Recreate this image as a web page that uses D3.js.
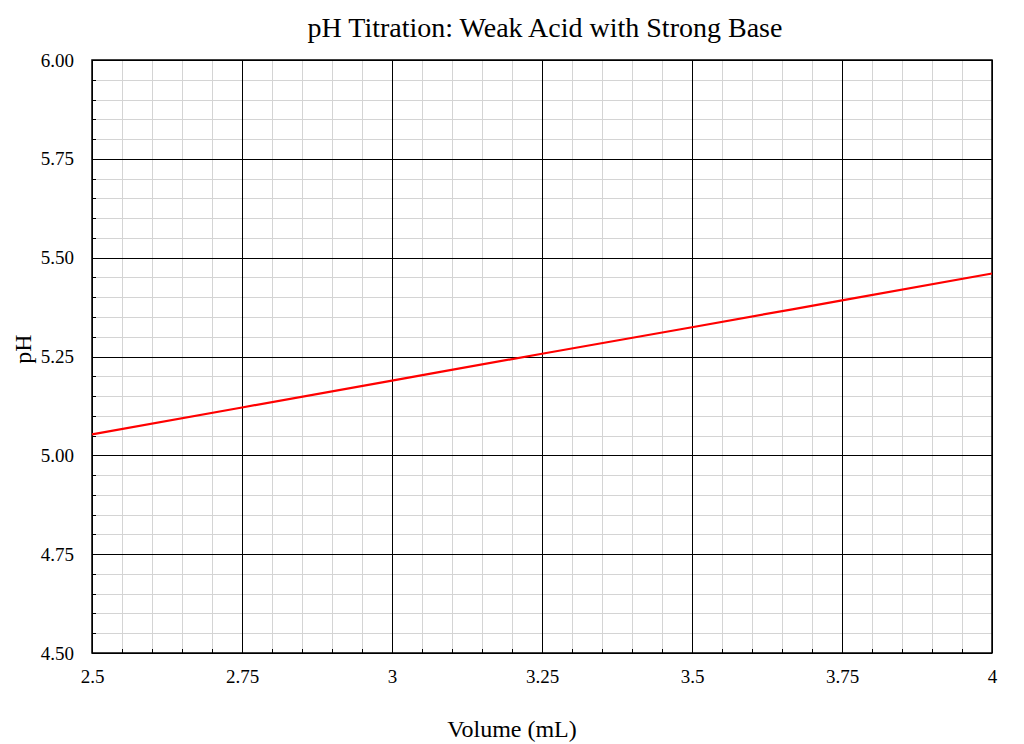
<!DOCTYPE html>
<html lang="en">
<head>
    <meta charset="UTF-8">
    <title>pH Titration</title>
    <script src="https://cdn.jsdelivr.net/npm/d3@7/dist/d3.min.js"></script>
    <style>
        body { margin: 0; background: #fff; }
        svg text { font-family: "Liberation Serif", "Times New Roman", serif; fill: #000; }
    </style>
</head>
<body>
    <script>
        // data
        var volume = [2.5, 2.75, 3.0, 3.25, 3.5, 3.75, 4.0];
        var ph = [5.053, 5.121, 5.189, 5.257, 5.324, 5.392, 5.460];
        var xTicks = [2.5, 2.75, 3, 3.25, 3.5, 3.75, 4];
        var yTicks = [4.5, 4.75, 5.0, 5.25, 5.5, 5.75, 6.0];

        var w = 1024, h = 744;
        var margin = { top: 60, right: 32, bottom: 91, left: 92 };

        var svg = d3.select("body").append("svg")
            .attr("width", w)
            .attr("height", h);

        var x = d3.scaleLinear().domain([2.5, 4]).range([margin.left, w - margin.right]);
        var y = d3.scaleLinear().domain([4.5, 6]).range([h - margin.bottom, margin.top]);

        var minorX = d3.range(0, 31).map(function (i) { return 2.5 + i * 0.05; });
        var minorY = d3.range(0, 31).map(function (i) { return 4.5 + i * 0.05; });

        // minor grid
        var g = svg.append("g");
        g.selectAll("line.mx").data(minorX).enter().append("line")
            .attr("x1", function (d) { return Math.round(x(d)) + 0.5; })
            .attr("x2", function (d) { return Math.round(x(d)) + 0.5; })
            .attr("y1", y(4.5)).attr("y2", y(6))
            .attr("stroke", "#d4d4d4").attr("stroke-width", 1);
        g.selectAll("line.my").data(minorY).enter().append("line")
            .attr("y1", function (d) { return Math.round(y(d)) + 0.5; })
            .attr("y2", function (d) { return Math.round(y(d)) + 0.5; })
            .attr("x1", x(2.5)).attr("x2", x(4))
            .attr("stroke", "#d4d4d4").attr("stroke-width", 1);

        // major grid
        g.selectAll("line.Mx").data(xTicks).enter().append("line")
            .attr("x1", function (d) { return Math.round(x(d)) + 0.5; })
            .attr("x2", function (d) { return Math.round(x(d)) + 0.5; })
            .attr("y1", y(4.5)).attr("y2", y(6))
            .attr("stroke", "#000").attr("stroke-width", 1);
        g.selectAll("line.My").data(yTicks).enter().append("line")
            .attr("y1", function (d) { return Math.round(y(d)) + 0.5; })
            .attr("y2", function (d) { return Math.round(y(d)) + 0.5; })
            .attr("x1", x(2.5)).attr("x2", x(4))
            .attr("stroke", "#000").attr("stroke-width", 1);

        // inward minor ticks on left and bottom
        g.selectAll("line.tx").data(minorX).enter().append("line")
            .attr("x1", function (d) { return Math.round(x(d)) + 0.5; })
            .attr("x2", function (d) { return Math.round(x(d)) + 0.5; })
            .attr("y1", y(4.5)).attr("y2", y(4.5) - 4)
            .attr("stroke", "#000");
        g.selectAll("line.ty").data(minorY).enter().append("line")
            .attr("y1", function (d) { return Math.round(y(d)) + 0.5; })
            .attr("y2", function (d) { return Math.round(y(d)) + 0.5; })
            .attr("x1", x(2.5)).attr("x2", x(2.5) + 4)
            .attr("stroke", "#000");

        // frame
        svg.append("rect")
            .attr("x", x(2.5)).attr("y", y(6))
            .attr("width", x(4) - x(2.5)).attr("height", y(4.5) - y(6))
            .attr("fill", "none").attr("stroke", "#000").attr("stroke-width", 1.5);

        // axis labels
        var xAxis = d3.axisBottom(x).tickValues(xTicks).tickSize(0).tickPadding(17)
            .tickFormat(d3.format(""));
        svg.append("g")
            .attr("transform", "translate(0," + y(4.5) + ")")
            .call(xAxis)
            .call(function (s) { s.select(".domain").remove(); })
            .selectAll("text")
            .style("font-family", "Liberation Serif")
            .style("font-size", "19px");

        var yAxis = d3.axisLeft(y).tickValues(yTicks).tickSize(0).tickPadding(18)
            .tickFormat(d3.format(".2f"));
        svg.append("g")
            .attr("transform", "translate(" + x(2.5) + ",0)")
            .call(yAxis)
            .call(function (s) { s.select(".domain").remove(); })
            .selectAll("text")
            .style("font-family", "Liberation Serif")
            .style("font-size", "19px");

        // line
        var line = d3.line()
            .x(function (d, i) { return x(volume[i]); })
            .y(function (d) { return y(d); })
            .curve(d3.curveMonotoneX);

        svg.append("path")
            .datum(ph)
            .attr("d", line)
            .attr("fill", "none")
            .attr("stroke", "#ff0000")
            .attr("stroke-width", 2.2);

        // titles
        svg.append("text")
            .attr("x", 545).attr("y", 37)
            .attr("text-anchor", "middle")
            .style("font-size", "28px")
            .text("pH Titration: Weak Acid with Strong Base");

        svg.append("text")
            .attr("x", 512).attr("y", 737)
            .attr("text-anchor", "middle")
            .style("font-size", "24px")
            .text("Volume (mL)");

        svg.append("text")
            .attr("transform", "translate(31,349) rotate(-90)")
            .attr("text-anchor", "middle")
            .style("font-size", "24px")
            .text("pH");
    </script>
</body>
</html>
